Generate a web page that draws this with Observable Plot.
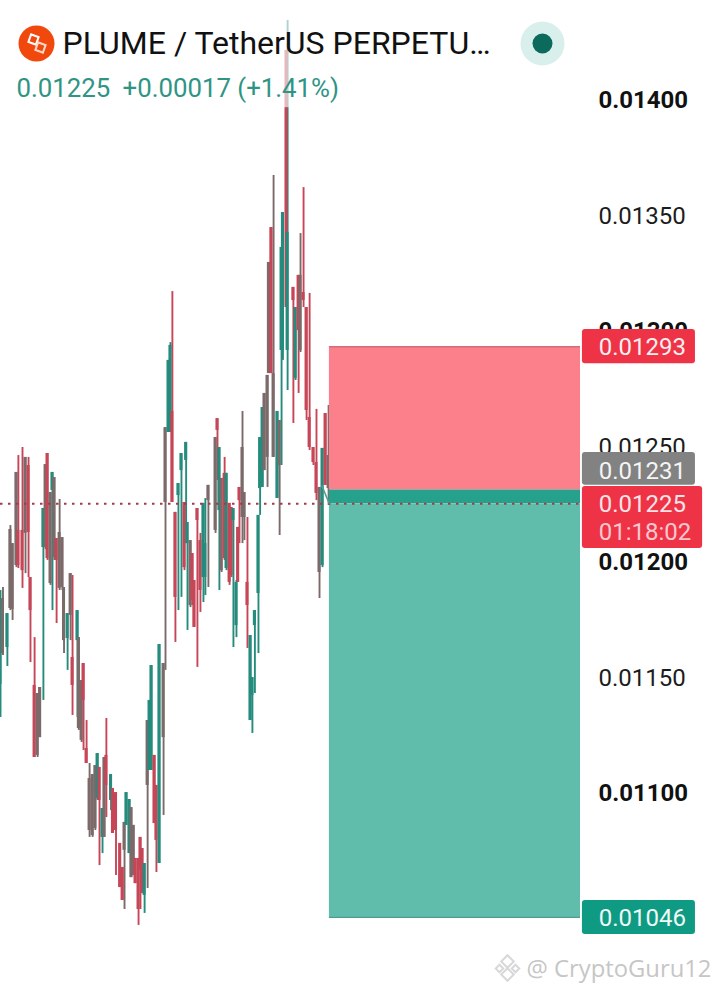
<!DOCTYPE html>
<html><head><meta charset="utf-8">
<style>html,body{margin:0;padding:0;background:#fff;overflow:hidden}svg{display:block}</style>
<script src="https://cdn.jsdelivr.net/npm/d3@7"></script>
<script src="https://cdn.jsdelivr.net/npm/@observablehq/plot@0.6"></script>
</head><body><div id="chart"></div>
<script>
// prices are in units of 0.00001 USDT
const bar=[0,.9,2.5,3.6,4.4,5.8,6.5,8,9.1,10.2,10.9,12.4,13.5,14.4,15.6,16.4,17.1,18.2,18.9,19.6,20.4,21.5,22.5,23.1,24.4,25.5,26.2,28,28.5,29.5,30.2,31.3,32.4,33.5,34.5,35.3,36,37.1,37.8,38.5,40.2,40.9,42,43.5,44.4,45.1,45.8,46.9,47.6,48.4,49.1,50.2,50.9,51.6,52.4,53.5,54.2,54.9,56,56.7,57.8,59.3,60,61.1,61.8,62.5,63.6,64.7,65.8,66.9,67.5,68,69.1,69.8,70.5,71.6,72.7,73.8,74.5,75.6,78.2,78.9,79.6,80.4,81.5,82.2,83.3,84,84.7,85.8,86.4,86.9,88,88.7,89.8,90.9,91.6,92.5,93.8,94.4,95.3,96,97.1,97.6,98.5,99.3,100.7,101.5,102.2,102.7,104,104.4,106.5,107.3,108.4,109.1,110.2,111.3,112.4,113.8,114.9,116,117.1,118.2,119.3];
const high=[1187.5,1188.8,1177.5,1215.6,1207.8,1238.6,1245.9,1249.4,1245.1,1245.1,1193.1,1167.1,1142.9,1145.5,1223,1242,1246.8,1229.9,1238.6,1236.4,1210,1226.9,1210.4,1188.8,1177.5,1194.8,1194,1178.8,1167.1,1148.5,1155.9,1131.2,1112.6,1107.8,1111.7,1116.9,1110.9,1093.1,1115.2,1132.1,1107.8,1101.8,1100,1078,1067.6,1087.1,1100,1097,1093.5,1085.8,1071.5,1071.5,1080.6,1075.8,1069.3,1131.2,1139.9,1155,1116.1,1103.1,1164.1,1155.9,1258,1287.1,1294.8,1316.9,1221.3,1233.8,1246.8,1225.6,1251.6,1216.9,1209.1,1203.5,1191.8,1223,1212.2,1225.2,1227.3,1233,1253.7,1261.9,1249.4,1236,1245.1,1238.2,1225.2,1223.4,1223,1191.8,1214.8,1232.1,1265,1229.9,1219.1,1168,1149.8,1178.8,1220,1253.7,1266.7,1272.8,1280.6,1329.5,1344.6,1367.1,1265,1261.1,1336,1351.1,1421.3,1434.2,1318.7,1310,1323.9,1342,1361.9,1310,1316.1,1249.4,1265.9,1232.1,1249,1264.1,1267.6];
const bodyTop=[1173.2,1184,1177.5,1213.9,1207.8,1238.6,1213.5,1213.5,1245.1,1241.6,1193.1,1146.4,1142.9,1145.5,1223,1242,1246.8,1229.9,1238.6,1236.4,1210,1212.6,1210.4,1188.4,1177.5,1194.8,1158.5,1178.8,1167.1,1148.5,1155.9,1119.1,1106.1,1107.8,1111.7,1116.9,1110.9,1093.1,1115.2,1116.1,1107.8,1101.8,1100,1078,1067.6,1087.1,1100,1097,1093.5,1085.8,1071.5,1071.5,1080.6,1075.8,1069.3,1131.2,1139.9,1155,1116.1,1103.1,1164.1,1155.9,1258,1287.1,1293.6,1265,1221.3,1233.8,1246.8,1225.6,1251.6,1216.9,1209.1,1203.5,1191.8,1223,1209.1,1225.2,1207.8,1233,1253.7,1261.9,1249.4,1236,1238.2,1238.2,1225.2,1223.4,1223,1191,1214.8,1232.1,1249.4,1229.9,1191,1168,1149.8,1178.8,1220,1253.7,1266.7,1272.8,1280.6,1329.5,1344.6,1281.4,1265,1261.1,1336,1351.1,1421.3,1342.5,1318.7,1310,1323.9,1323.9,1316.5,1310,1262.4,1249.4,1242.9,1232.1,1249,1264.1,1245.9];
const bodyBottom=[1146.8,1160.2,1162.8,1179.7,1179.3,1198.3,1198.3,1196.1,1212.2,1212.6,1178.8,1115.2,1116.1,1123.8,1206.1,1206.1,1201.3,1190.5,1230.8,1201.8,1200.5,1188.4,1188.8,1165.8,1166.7,1176.7,1146.4,1165.8,1127.7,1122.6,1139.9,1112.6,1083.6,1081.4,1084.5,1097.4,1096.6,1080.6,1080.6,1103.1,1096.6,1082.3,1083.6,1058.9,1053.3,1075,1085.8,1073.6,1063.2,1064.1,1060.6,1049.4,1066.3,1056.3,1055.5,1103.1,1109.6,1109.6,1086.6,1079.3,1069.3,1123.8,1225.6,1255.9,1255.9,1225.6,1184.5,1228.6,1239.4,1197.4,1243.8,1207.8,1181,1183.2,1171.5,1217.8,1187.5,1193.1,1193.1,1226.4,1213.5,1256.8,1222.1,1196.1,1201.3,1197,1191,1194,1217.8,1172.3,1191,1226.4,1219.1,1219.1,1181,1131.2,1142,1172.3,1186.2,1231.6,1232.1,1239.4,1245.1,1281.4,1281.4,1245.1,1227.3,1241.6,1291.4,1291.4,1310,1291.4,1313,1279.3,1300,1291.4,1313,1265.4,1249.4,1242.9,1229.5,1195.3,1198.3,1233,1231.6];
const low=[1132.5,1159.3,1154.6,1178.8,1174.5,1197.4,1197,1188.4,1194.8,1193.1,1156.3,1115.2,1115.2,1123.8,1139.9,1205.2,1200.5,1189.7,1178.8,1200.5,1173.2,1187.5,1187.5,1160.2,1152.9,1165.8,1133.4,1132.5,1126.9,1121.7,1118.2,1112.6,1080.6,1080.6,1083.6,1096.6,1068.4,1073.6,1080.6,1089.2,1092.2,1082.3,1064.1,1058.9,1053.3,1049.4,1085.8,1073.6,1063.2,1064.1,1060.6,1042.5,1049.4,1056.3,1047.7,1058.5,1109.6,1109.6,1086.6,1065.4,1069.3,1090.1,1152.9,1255.9,1255.9,1225.6,1165,1178.8,1184.5,1196.1,1207.8,1170.2,1180.1,1181,1171.5,1154.2,1178,1182.3,1185.3,1188.8,1212.2,1235.1,1187.5,1195.3,1200.5,1196.1,1189.7,1193.1,1162.8,1167.1,1191,1207.8,1207.8,1209.1,1162.4,1131.2,1125.6,1142.9,1160.2,1220,1232.1,1239.4,1232.1,1281.4,1281.4,1245.1,1227.3,1211.3,1241.6,1287.1,1310,1274.1,1259.8,1278.4,1272.8,1290.5,1310,1261.1,1248.1,1241.6,1226.4,1184,1197.4,1233,1224.3];
const kind="gmgmmmddmdddmmgmdmgmdmmmgmdgmmddmmmgdgmdgddddmggmmddddgmggddgmmggddggdggmddddggmmdgmdgddggddmmdggggggmmmdmgmggdgdgdmdddddmgd";
const candles=bar.map((b,i)=>({bar:b,high:high[i],top:bodyTop[i],bottom:bodyBottom[i],low:low[i],kind:kind[i]||"m"}));

const riskTop=1293, entry=1231, last=1225, target=1046;
const zoneStartBar=119.6, zoneEndBar=210.9;
const ticksRegular=[0.0135,0.0125,0.0115];
const ticksBold=[0.014,0.013,0.012,0.011];
const labelBoxes=[
 {top:1300.5,bottom:1285.7,end:252.7,fill:"#ef3347"},
 {top:1247.2,bottom:1233.0,end:252.7,fill:"#828282"},
 {top:1232.5,bottom:1205.7,end:255.3,fill:"#ef3347"},
 {top:1053.3,bottom:1038.6,end:252.7,fill:"#0f9a83"}];
const labelTexts=[
 {t:"0.01293",p:1293.1,c:"#f8eef0"},
 {t:"0.01231",p:1239.4,c:"#f4f4f4"},
 {t:"0.01225",p:1225.2,c:"#f8e4e6"},
 {t:"01:18:02",p:1213.0,c:"#f8c8ce"},
 {t:"0.01046",p:1045.9,c:"#f0faf7"}];
const colors={g:"#258b7c",d:"#c64657",m:"#7c6a6a"};
const font="Roboto";
const P=v=>v/1e5;
const corner=(dx,dy,o)=>({frameAnchor:"top-left",dx,dy,...o});

const chart=Plot.plot({
 width:720,height:994,margin:0,marginRight:140,
 style:{fontFamily:font,background:"#fff"},
 x:{domain:[0,zoneEndBar],axis:null},
 y:{domain:[1442.9/1e5,1012.6/1e5],range:[0,994],axis:null},
 marks:[
  Plot.axisY(ticksRegular,{anchor:"right",label:null,tickSize:0,tickPadding:18,dy:1,fontSize:24,fill:"#1c1c1c",tickFormat:d3.format(".5f")}),
  Plot.axisY(ticksBold,{anchor:"right",label:null,tickSize:0,tickPadding:18,dy:1,fontSize:24,fontWeight:"bold",fill:"#111",tickFormat:d3.format(".5f")}),
  Plot.ruleX(candles,{x:"bar",y1:d=>P(d.high),y2:d=>P(d.low),stroke:d=>colors[d.kind],strokeWidth:1.9}),
  Plot.rect(candles,{x1:d=>d.bar-.56,x2:d=>d.bar+.56,y1:d=>P(d.top),y2:d=>P(d.bottom),fill:d=>colors[d.kind]}),
  // header veil fading the spike's top
  Plot.rect([0],{x1:100,x2:110,y1:P(1442.9),y2:P(1396.5),fill:"#fff",fillOpacity:.62}),
  Plot.rect([0],{x1:zoneStartBar,x2:zoneEndBar,y1:P(riskTop),y2:P(entry),fill:"#fb808c"}),
  Plot.rect([0],{x1:zoneStartBar,x2:zoneEndBar,y1:P(entry),y2:P(last),fill:"#25a18c"}),
  Plot.rect([0],{x1:zoneStartBar,x2:zoneEndBar,y1:P(last),y2:P(target),fill:"#60bdac"}),
  Plot.ruleY([P(riskTop)],{x1:zoneStartBar,x2:zoneEndBar,stroke:"#d46c79",strokeWidth:1.5}),
  Plot.ruleY([P(target)],{x1:zoneStartBar,x2:zoneEndBar,stroke:"#4a9f8f",strokeWidth:1.5}),
  Plot.ruleY([P(last)],{x1:0,x2:zoneEndBar,stroke:"#a33c4a",strokeWidth:2,strokeDasharray:"2.5,5.5"}),
  Plot.link([0],{x1:116.8,x2:119.6,y1:P(1233),y2:P(1225),stroke:"#4f9f90",strokeWidth:1.5}),
  Plot.rect(labelBoxes,{x1:211.6,x2:"end",y1:d=>P(d.top),y2:d=>P(d.bottom),fill:"fill",rx:3}),
  Plot.text(labelTexts,{x:217.5,y:d=>P(d.p),dy:1,text:"t",fill:"c",fontSize:24,textAnchor:"start"}),
  // header
  Plot.dot([0],corner(36,43,{r:18,fill:"#f1480e"})),
  Plot.dot([0],corner(33,39,{r:4.5,symbol:"square",rotate:20,stroke:"#fff",strokeWidth:2,fill:"none"})),
  Plot.dot([0],corner(40,47,{r:4.5,symbol:"square",rotate:20,stroke:"#ffd9c8",strokeWidth:2,fill:"none"})),
  Plot.text(["PLUME / TetherUS PERPETU…"],corner(62,43,{fontSize:32,fill:"#111",textAnchor:"start",lineAnchor:"middle"})),
  Plot.text(["0.01225"],corner(16,88,{fontSize:25.8,fill:"#2f9484",textAnchor:"start",lineAnchor:"middle"})),
  Plot.text(["+0.00017 (+1.41%)"],corner(122,88,{fontSize:25.8,fill:"#2f9484",textAnchor:"start",lineAnchor:"middle"})),
  Plot.dot([0],corner(542,43,{r:22,fill:"#d9efec"})),
  Plot.dot([0],corner(542,43,{r:10,fill:"#0b6a5c"})),
  // watermark
  Plot.dot([0],corner(507,961,{r:5,symbol:"square",rotate:45,stroke:"#d8d8d8",strokeWidth:2,fill:"none"})),
  Plot.dot([0],corner(499,968,{r:3,symbol:"square",rotate:45,stroke:"#d8d8d8",strokeWidth:2,fill:"none"})),
  Plot.dot([0],corner(515,968,{r:3,symbol:"square",rotate:45,stroke:"#d8d8d8",strokeWidth:2,fill:"none"})),
  Plot.dot([0],corner(507,974,{r:5,symbol:"square",rotate:45,stroke:"#d8d8d8",strokeWidth:2,fill:"none"})),
  Plot.text(["@ CryptoGuru12"],corner(526,969,{fontSize:23.8,fill:"#c6c6c6",fontFamily:"Open Sans",textAnchor:"start",lineAnchor:"middle"}))
 ]
});
document.getElementById("chart").append(chart);
</script></body></html>
